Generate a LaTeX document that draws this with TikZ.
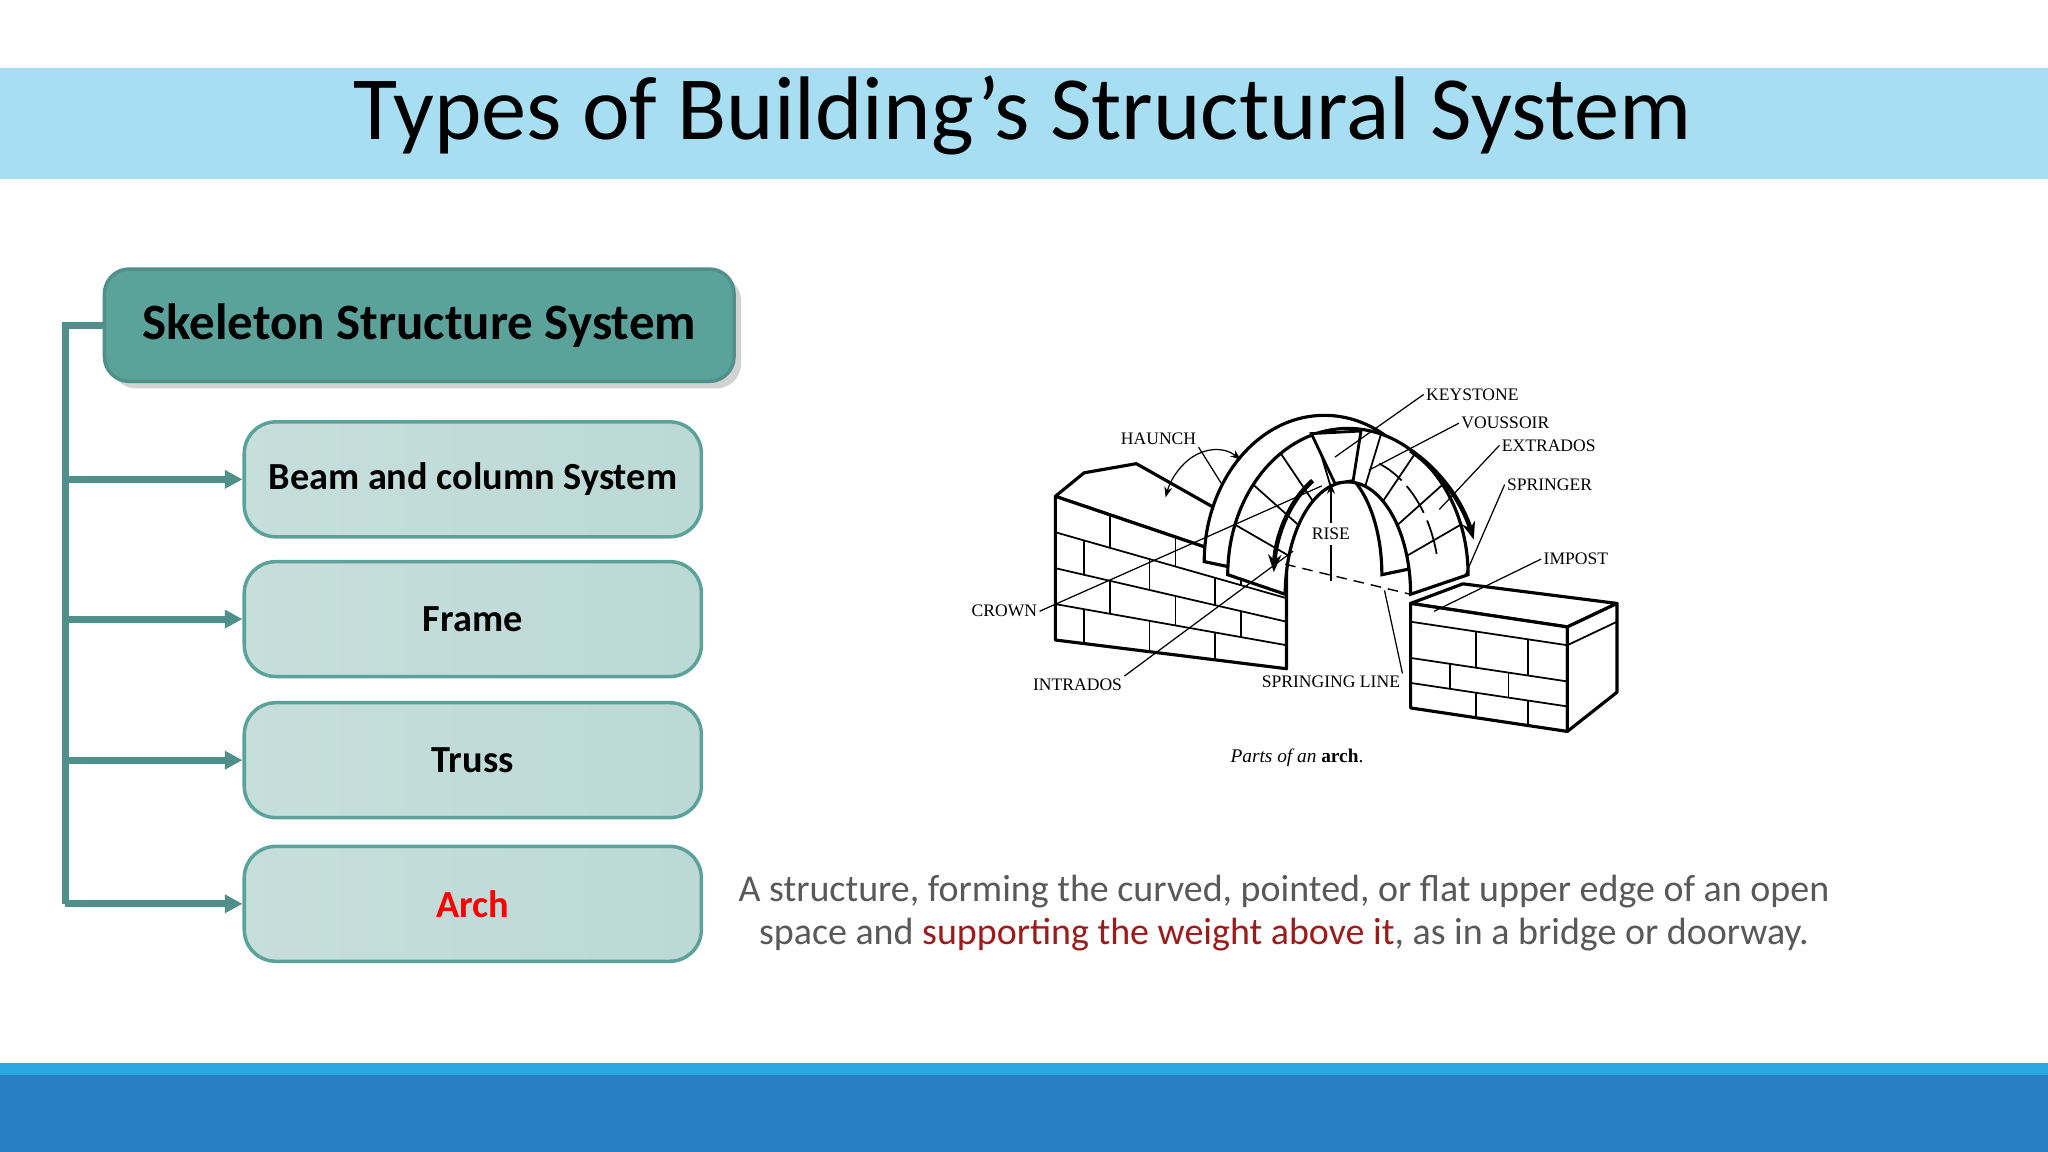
\documentclass[tikz,border=0pt]{standalone}
\usepackage{fontspec}
\setmainfont{Carlito}
\newfontfamily\archfont{Liberation Serif}
\usetikzlibrary{arrows.meta,shadows,calc}
\definecolor{band}{HTML}{A8DEF2}
\definecolor{barlight}{HTML}{2BA8E0}
\definecolor{bardark}{HTML}{2A7FC2}
\definecolor{tealbox}{HTML}{5BA39A}
\definecolor{tealline}{HTML}{4F908A}
\definecolor{subfill}{HTML}{BCD9D5}
\definecolor{txtgray}{HTML}{595959}
\definecolor{redtxt}{HTML}{9E1B1B}
\tikzset{
 subbox/.style={draw=tealbox, line width=1pt, rounded corners=9pt, minimum width=350*0.01306cm, minimum height=88*0.01306cm, left color=subfill!85!white, right color=subfill, font=\fontsize{10.9}{12}\selectfont\bfseries},
 brack/.style={tealline, line width=2pt},
 barrow/.style={tealline, line width=2pt, -{Triangle[length=5pt,width=5pt]}},
 lab/.style={font=\archfont\fontsize{5}{6}\selectfont, inner sep=0.5pt},
 lead/.style={line width=0.35pt},
 wall/.style={line width=0.9pt, fill=white, line join=round},
 brick/.style={line width=0.5pt}
}
\begin{document}
\begin{tikzpicture}[x=0.01306cm,y=-0.01306cm]
\useasboundingbox (0,0) rectangle (1568,882);
\fill[white] (0,0) rectangle (1568,882);
\fill[band] (0,52) rectangle (1568,137);
\node[font=\fontsize{25.7}{30}\selectfont] (title) at (783,88) {Types of Building’s Structural System};
\fill[barlight] (0,814) rectangle (1568,823);
\fill[bardark] (0,823) rectangle (1568,882);

% left hierarchy
\node[draw=tealline, line width=1pt, fill=tealbox, rounded corners=7pt, minimum width=482*0.01306cm, minimum height=86*0.01306cm, drop shadow={shadow xshift=2pt,shadow yshift=-2pt,opacity=0.35}, font=\fontsize{14.5}{16}\selectfont\bfseries] (sk) at (321,249) {Skeleton Structure System};
\node[subbox] (b1) at (362,367) {Beam and column System};
\node[subbox] (b2) at (362,474) {Frame};
\node[subbox] (b3) at (362,582) {Truss};
\node[subbox, text=red] (b4) at (362,692) {Arch};
\coordinate (top) at (50,249);
\coordinate (bot) at (50,692);
\draw[brack] (sk.west) -- (top) -- (bot);
\draw[barrow] (50,367) -- (b1.west);
\draw[barrow] (50,474) -- (b2.west);
\draw[barrow] (50,582) -- (b3.west);
\draw[barrow] (bot) -- (b4.west);

% description
\node[text=txtgray, font=\fontsize{10.8}{12.2}\selectfont, align=center] (desc) at (983,699) {A structure, forming the curved, pointed, or flat upper edge of an open\\space and \textcolor{redtxt}{supporting the weight above it}, as in a bridge or doorway.};

% ---------------- arch drawing ----------------
% left wall
\draw[wall] (808,380) -- (830,362) -- (870,355) -- (985,420) -- (985,440) -- cycle;
\draw[wall] (808,380) -- (985,440) -- (985,512) -- (808,490) -- cycle;
\foreach \t in {0.25,0.5,0.75}{
 \draw[brick] ($(808,380)!\t!(808,490)$) -- ($(985,440)!\t!(985,512)$);}
\foreach \x/\a/\b in {850/0/0.25,900/0/0.25,950/0/0.25,830/0.25/0.5,880/0.25/0.5,930/0.25/0.5,850/0.5/0.75,900/0.5/0.75,950/0.5/0.75,830/0.75/1,880/0.75/1,930/0.75/1}{
 \pgfmathsetmacro\ya{380+(\x-808)/177*60 + \a*(110-(\x-808)/177*38)}
 \pgfmathsetmacro\yb{380+(\x-808)/177*60 + \b*(110-(\x-808)/177*38)}
 \draw[brick] (\x,\ya) -- (\x,\yb);}
\draw[line width=0.9pt] (985,440) -- (985,512);
% right wall
\draw[wall] (1080,462) -- (1120,447) -- (1238,462) -- (1200,480) -- cycle;
\draw[wall] (1080,462) -- (1200,480) -- (1200,560) -- (1080,542) -- cycle;
\draw[wall] (1200,480) -- (1238,462) -- (1238,530) -- (1200,560) -- cycle;
\draw[brick] (1080,476) -- (1200,494) -- (1238,476);
\foreach \t in {0.42,0.71}{
 \draw[brick] ($(1080,476)!\t!(1080,542)$) -- ($(1200,494)!\t!(1200,560)$);}
\foreach \x/\a/\b in {1130/0/0.42,1170/0/0.42,1110/0.42/0.71,1155/0.42/0.71,1130/0.71/1,1170/0.71/1}{
 \pgfmathsetmacro\ya{476+(\x-1080)/120*18 + \a*66}
 \pgfmathsetmacro\yb{476+(\x-1080)/120*18 + \b*66}
 \draw[brick] (\x,\ya) -- (\x,\yb);}
% arch: back face and front face
\draw[line width=0.9pt, fill=white] (922,430) arc[start angle=180,end angle=360,x radius=92,y radius=112] -- (1058,440) arc[start angle=360,end angle=180,x radius=44,y radius=84] -- cycle;
\draw[line width=0.9pt, fill=white] (940,440) arc[start angle=180,end angle=360,x radius=92,y radius=112] -- (1080,455) arc[start angle=360,end angle=180,x radius=48,y radius=86] -- cycle;
\foreach \ang in {20,38,56,74,106,124,142,160}{
 \draw[brick] ({1032+48*cos(\ang)},{455-86*sin(\ang)}) -- ({1032+92*cos(\ang)},{440-112*sin(\ang)});}
\foreach \ang in {30,50,70}{
 \draw[brick] ({1032+70*cos(\ang)},{448-99*sin(\ang)}) arc[start angle=360-\ang,end angle=376-\ang,x radius=70,y radius=99];}
% keystone
\draw[line width=0.8pt, fill=white] (1004,332) -- (1042,330) -- (1036,368) -- (1022,370) -- cycle;
% springing line
\coordinate (sprL) at (984,432);
\coordinate (sprR) at (1080,455);
\draw[densely dashed, line width=0.4pt] (sprL) -- (sprR);
\coordinate (riseB) at (1019,445);
\coordinate (riseT) at (1019,370);
\draw[lead, -{Stealth[length=3pt]}] (riseB) -- (riseT);
% thick arrows
\draw[line width=1.3pt, -{Stealth[length=5pt]}] (1080,345) arc[start angle=300,end angle=340,x radius=110,y radius=130];
\draw[line width=1.3pt, -{Stealth[length=5pt]}] (1005,368) arc[start angle=240,end angle=185,x radius=60,y radius=90];
\draw[lead, {Stealth[length=3pt]}-{Stealth[length=3pt]}] (950,352) arc[start angle=300,end angle=200,x radius=40,y radius=55];

% labels
\node[lab, anchor=west] (kst) at (1090,302) {KEYSTONE};
\node[lab, anchor=west] (vou) at (1117,324) {VOUSSOIR};
\node[lab, anchor=west] (ext) at (1148,341) {EXTRADOS};
\node[lab, anchor=west] (spr) at (1152,371) {SPRINGER};
\node[lab, anchor=west] (imp) at (1180,428) {IMPOST};
\node[lab] (hau) at (887,336) {HAUNCH};
\node[lab, fill=white, inner sep=1.5pt] (ris) at (1019,409) {RISE};
\node[lab] (cro) at (769,468) {CROWN};
\node[lab] (int) at (825,524) {INTRADOS};
\node[lab] (spl) at (1019,522) {SPRINGING LINE};
\node[font=\archfont\fontsize{5.5}{6}\selectfont] (cap) at (993,580) {\textit{Parts of an} \textbf{arch}.};
\coordinate (kP) at (1022,350);
\coordinate (vP) at (1048,360);
\coordinate (eP) at (1102,390);
\coordinate (sP) at (1122,440);
\coordinate (iP) at (1098,468);
\coordinate (hP) at (935,370);
\coordinate (cP) at (1012,372);
\coordinate (inP) at (990,422);
\coordinate (slP) at (1060,452);
\draw[lead] (kst.west) -- (kP);
\draw[lead] (vou.west) -- (vP);
\draw[lead] (ext.west) -- (eP);
\draw[lead] (spr.west) -- (sP);
\draw[lead] (imp.west) -- (iP);
\draw[lead] (hau.south east) -- (hP);
\draw[lead] (cro.east) -- (cP);
\draw[lead] (int.north east) -- (inP);
\draw[lead] (spl.north east) -- (slP);
\end{tikzpicture}
\end{document}
